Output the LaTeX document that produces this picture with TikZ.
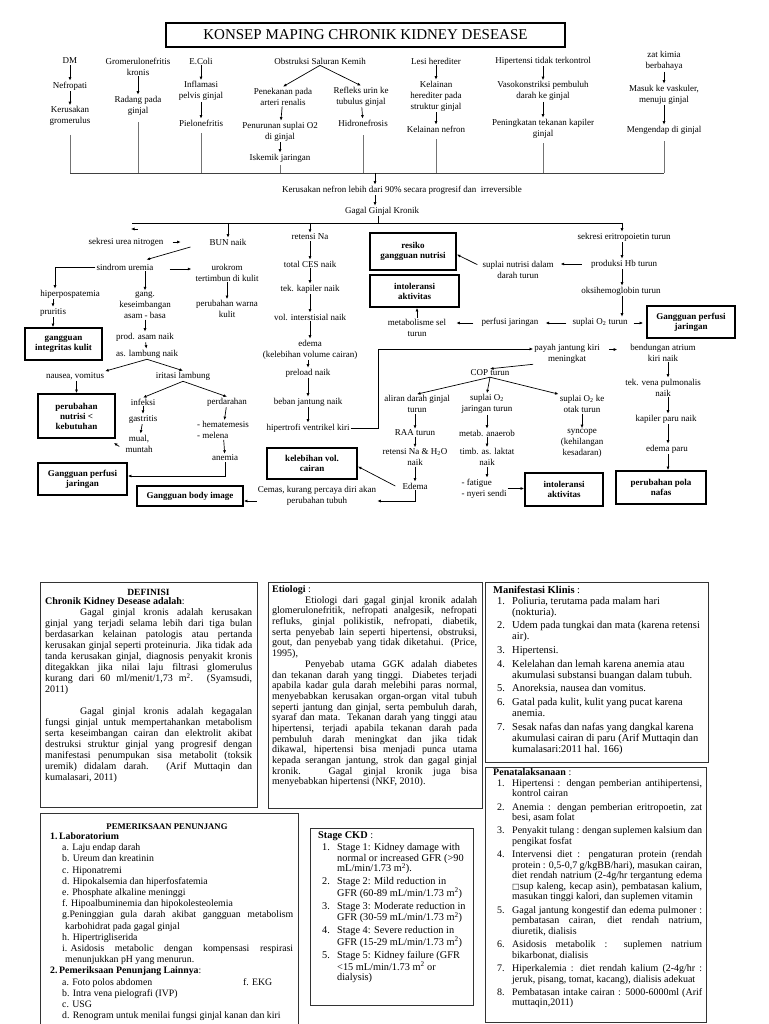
\documentclass[tikz,border=0pt]{standalone}
\usepackage{fontspec}
\setmainfont{Liberation Serif}
\newfontfamily\dvs{DejaVu Sans}
\usetikzlibrary{arrows.meta,calc}
\newcommand\fs{\fontsize{9}{11}\selectfont}
\newcommand\fsb{\fontsize{9}{10}\selectfont\bfseries}
\newcommand\J[2]{\makebox[#1pt][s]{#2}}
\newcommand\N[1]{\hspace*{4pt}\makebox[15pt][l]{#1}}
\newcommand\C{\hspace*{19pt}}
\begin{document}
\begin{tikzpicture}[x=1pt,y=-1pt,
  t/.style={font=\fs, align=center, inner sep=1pt},
  bx/.style={draw, line width=1.8pt, font=\fsb, align=center, inner sep=1pt},
  ar/.style={-{Latex[length=3.5pt,width=3pt]}, line width=0.7pt},
  ln/.style={line width=0.7pt},
  gl/.style={line width=0.8pt, draw=black!55},
  bb/.style={draw=black!80, line width=0.8pt, inner sep=0, anchor=north west},
  bt/.style={font=\fontsize{10}{11}\selectfont, inner sep=0, anchor=north west, align=left}]
\fill[white] (0,0) rectangle (768,1024);
\useasboundingbox (0,0) rectangle (768,1024);

% ---------- title
\node[draw, line width=1.8pt, minimum width=399, minimum height=24, inner sep=0,
      font=\fontsize{15}{17}\selectfont] (title) at (365.5,35) {KONSEP MAPING CHRONIK KIDNEY DESEASE};

% ---------- causes
\node[t] (dm) at (70,61) {DM};
\node[t] (nef) at (70,86) {Nefropati};
\node[t] (kg) at (70,116) {Kerusakan\\gromerulus};
\node[t] (gn) at (138,66.5) {Gromerulonefritis\\kronis};
\node[t] (rad) at (138,105.5) {Radang pada\\ginjal};
\node[t] (ec) at (201,61) {E.Coli};
\node[t] (inf) at (201,91) {Inflamasi\\pelvis ginjal};
\node[t] (pie) at (201,123) {Pielonefritis};
\node[t] (obs) at (320,61) {Obstruksi Saluran Kemih};
\node[t] (pen) at (283,96.5) {Penekanan pada\\arteri renalis};
\node[t] (ref) at (361,96.5) {Refleks urin ke\\tubulus ginjal};
\node[t] (psu) at (280,131.5) {Penurunan suplai O2\\di ginjal};
\node[t] (isk) at (280,158) {Iskemik jaringan};
\node[t] (hid) at (363,123) {Hidronefrosis};
\node[t] (lesi) at (436,61) {Lesi herediter};
\node[t] (kel) at (436,96) {Kelainan\\herediter pada\\struktur ginjal};
\node[t] (kn) at (436,129) {Kelainan nefron};
\node[t] (hip) at (543,61) {Hipertensi tidak terkontrol};
\node[t] (vas) at (543,91) {Vasokonstriksi pembuluh\\darah ke ginjal};
\node[t] (ptk) at (543,128.5) {Peningkatan tekanan kapiler\\ginjal};
\node[t] (zat) at (664,61) {zat kimia\\berbahaya};
\node[t] (mas) at (664,94.5) {Masuk ke vaskuler,\\menuju ginjal};
\node[t] (men) at (664,130) {Mengendap di ginjal};

\draw[ar] (dm) -- (nef);
\draw[ar] (nef) -- (kg);
\draw[ar] (gn) -- (rad);
\draw[ar] (ec) -- (inf);
\draw[ar] (inf) -- (pie);
\draw[ar] (obs.south) -- (pen.north);
\draw[ar] (obs.south) -- (ref.north);
\draw[ar] (pen) -- (psu);
\draw[ar] (psu) -- (isk);
\draw[ar] (ref) -- (hid);
\draw[ar] (lesi) -- (kel);
\draw[ar] (kel) -- (kn);
\draw[ar] (hip) -- (vas);
\draw[ar] (vas) -- (ptk);
\draw[ar] (zat) -- (mas);
\draw[ar] (mas) -- (men);

\coordinate (hl) at (0,173);
\foreach \n/\g in {kg/8, rad/6, pie/6, isk/2, hid/8, kn/6, ptk/4, men/6}
  \draw[gl] (\n.south) ++(0,\g) -- (\n.south |- hl);
\draw[ln, draw=black!75] (kg.south |- hl) -- (men.south |- hl);

\node[t, anchor=west] (k90) at (281,190) {Kerusakan nefron lebih dari 90\% secara progresif dan\ \ irreversible};
\node[t] (ggk) at (382,211) {Gagal Ginjal Kronik};
\coordinate (hm) at (375,173);
\draw[ar] (hm) -- (hm |- k90.north);
\draw[ar] (k90.south -| hm) -- (ggk.north -| hm);
\coordinate (g2) at (378,223);
\coordinate (hL) at (132,223);
\coordinate (hR) at (622,223);
\draw[ln] (ggk.south -| g2) -- (g2);
\draw[ln] (hL) -- (hR);

% ---------- left branch
\node[t] (sun) at (126,242) {sekresi urea nitrogen};
\node[t] (bun) at (228,242) {BUN naik};
\node[t] (su) at (125,267) {sindrom uremia};
\node[t] (hpp) at (70,294) {hiperpospatemia};
\node[t] (pru) at (53,312) {pruritis};
\node[bx, minimum width=77, minimum height=32] (gik) at (63.5,344) {gangguan\\integritas kulit};
\node[t] (uro) at (227,272.5) {urokrom\\tertimbun di kulit};
\node[t] (pwk) at (227,309) {perubahan warna\\kulit};
\node[t] (gkab) at (145,305) {gang.\\keseimbangan\\asam - basa};
\node[t] (pan) at (145,337) {prod. asam naik};
\node[t] (aln) at (147,354) {as. lambung naik};
\node[t] (nv) at (75,376) {nausea, vomitus};
\node[t] (il) at (183,376) {iritasi lambung};
\node[bx, minimum width=77, minimum height=44] (pnk) at (76.5,416) {perubahan\\nutrisi <\\kebutuhan};
\node[t] (infk) at (143,402) {infeksi};
\node[t] (gas) at (143,419) {gastritis};
\node[t] (mm) at (139,443.5) {mual,\\muntah};
\node[t] (perd) at (227,402) {perdarahan};
\node[t, align=left] (hem) at (223,430) {- hematemesis\\- melena};
\node[t] (anem) at (225,458) {anemia};
\node[bx, minimum width=89, minimum height=32] (gpj1) at (82.5,479) {Gangguan perfusi\\jaringan};
\node[bx, minimum width=106, minimum height=20] (gbi) at (190,496) {Gangguan body image};
\node[t] (cem) at (317,496) {Cemas, kurang percaya diri akan\\perubahan tubuh};
\node[bx, minimum width=90, minimum height=31] (kvc) at (312,463.5) {kelebihan vol.\\cairan};

\draw[ar] ($(hL)+(6,6)$) -- ($(hL)+(-1,6)$);
\draw[ar] (bun.north |- hL) -- (bun.north);
\draw[ar] ($(sun.east)+(8,0)$) -- ($(sun.east)+(16,0)$);
\draw[ar] ($(bun.west)+(-18,5)$) -- ($(su.north east)+(-8,-3)$);
\draw[ar] (su.west) -| ($(hpp.north)+(-15,0)$);
\draw[ar] (hpp.south -| pru) -- (pru.north);
\draw[ar] (pru) -- (pru |- gik.north);
\draw[ar] ($(su.east)+(15,2)$) -- ($(su.east -| uro.west)+(-3,2)$);
\draw[ar] (uro) -- (pwk);
\draw[ar] (su.south -| gkab) -- (gkab.north);
\draw[ar] (gkab) -- (pan);
\draw[ar] (pan) -- (aln);
\draw[ar] (aln.south) -- (nv.north east);
\draw[ar] (aln.south) -- (il.north);
\draw[ar] (nv.south -| pnk) -- (pnk.north);
\draw[ar] (il.south) -- (infk.north);
\draw[ar] (il.south) -- (perd.north);
\draw[ar] (infk) -- (gas);
\draw[ar] (gas) -- (mm);
\draw[ar] ($(mm.west)+(-5,3)$) -- ($(pnk.south east)+(-2,4)$);
\draw[ar] (perd) -- (hem);
\draw[ar] (hem) -- (anem);
\draw[ar] (anem.south) |- ($(gpj1.east)+(0,-3)$);
\draw[ar] ($(cem.west)+(0,5)$) -- ($(cem.west -| gbi.east)+(0,5)$);

% ---------- middle branch
\node[t] (rna) at (310,237) {retensi Na};
\node[t] (ces) at (310,264) {total CES naik};
\node[t] (tkn) at (310,289) {tek. kapiler naik};
\node[t] (vin) at (310,317) {vol. interstisial naik};
\node[t] (ed) at (310,349.5) {edema\\(kelebihan volume cairan)};
\node[t] (pln) at (308,373) {preload naik};
\node[t] (bjn) at (308,402) {beban jantung naik};
\node[t] (hvk) at (308,428) {hipertrofi ventrikel kiri};
\draw[ar] (rna.north |- hL) -- (rna.north);
\draw[ar] (rna) -- (ces);
\draw[ar] (ces) -- (tkn);
\draw[ar] (tkn) -- (vin);
\draw[ar] (vin) -- (ed);
\draw[ar] (ed.south -| pln) -- (pln.north);
\draw[ar] (pln) -- (bjn);
\draw[ar] (bjn) -- (hvk);

\node[bx, minimum width=86, minimum height=37] (rgn) at (413,251.5) {resiko\\gangguan nutrisi};
\node[bx, minimum width=89, minimum height=32] (ia1) at (414.5,291) {intoleransi\\aktivitas};

% ---------- right branch
\coordinate (rx) at (622,0);
\node[t] (ser) at (624,237) {sekresi eritropoietin turun};
\node[t] (phb) at (624,264) {produksi Hb turun};
\node[t] (snd) at (518,269.5) {suplai nutrisi dalam\\darah turun};
\node[t] (oks) at (621,291) {oksihemoglobin turun};
\node[t] (so2) at (600,322) {suplai O\textsubscript{2} turun};
\node[bx, minimum width=88, minimum height=32] (gpj2) at (691,322) {Gangguan perfusi\\jaringan};
\node[t] (pfj) at (510,322) {perfusi jaringan};
\node[t] (msl) at (417,327.5) {metabolisme sel\\turun};
\draw[ar] (hR) -- (hR |- ser.north);
\draw[ar] (ser.south -| rx) -- (phb.north -| rx);
\draw[ar] ($(phb.west)+(-8,0)$) -- ($(phb.west -| snd.east)+(6,0)$);
\draw[ar] ($(snd.north west)+(-4,5)$) -- ($(rgn.east)+(0,3)$);
\draw[ar] (phb.south -| rx) -- (oks.north -| rx);
\draw[ar] (oks.south -| rx) -- (so2.north -| rx);
\draw[ar] ($(so2.east)+(5,1)$) -- ($(so2.east -| gpj2.west)+(-3,1)$);
\draw[ar] ($(so2.west)+(-5,1)$) -- ($(so2.west -| pfj.east)+(6,1)$);
\draw[ar] ($(pfj.west)+(-7,1)$) -- ($(pfj.west -| msl.east)+(9,1)$);
\draw[ar] (msl.north) -- (msl.north |- ia1.south);

\node[t] (pjk) at (567,353.5) {payah jantung kiri\\meningkat};
\node[t] (bai) at (663,352.5) {bendungan atrium\\kiri naik};
\node[t] (tvp) at (663,387.5) {tek. vena pulmonalis\\naik};
\node[t] (kpn) at (666,419) {kapiler paru naik};
\node[t] (edp) at (667,449) {edema paru};
\node[bx, minimum width=90, minimum height=33] (ppn) at (661,487.5) {perubahan pola\\nafas};
\coordinate (cr) at (378,349);
\coordinate (rx2) at (668,0);
\draw[ar] (hvk.east) -| (cr) -- (cr -| pjk.west);
\draw[ar] ($(pjk.east)+(8,-4)$) -- ($(pjk.east -| bai.west)+(-12,-4)$);
\draw[ar] (bai.south -| rx2) -- (tvp.north -| rx2);
\draw[ar] (tvp.south -| rx2) -- (kpn.north -| rx2);
\draw[ar] (kpn.south -| rx2) -- (edp.north -| rx2);
\draw[ar] (edp.south -| rx2) -- (ppn.north -| rx2);

\node[t] (cop) at (490,373) {COP turun};
\node[t] (adg) at (417,404) {aliran darah ginjal\\turun};
\node[t] (soj) at (487,404) {suplai O\textsubscript{2}\\jaringan turun};
\node[t] (sok) at (582,404) {suplai O\textsubscript{2} ke\\otak turun};
\node[t] (raa) at (415,433) {RAA turun};
\node[t] (rnh) at (415,457) {retensi Na \& H\textsubscript{2}O\\naik};
\node[t] (edm) at (415,486) {Edema};
\node[t] (man) at (487,433) {metab. anaerob};
\node[t] (tal) at (487,457) {timb. as. laktat\\naik};
\node[t, align=left] (fat) at (484,488.5) {- fatigue\\- nyeri sendi};
\node[bx, minimum width=78, minimum height=33] (ia2) at (564,489.5) {intoleransi\\aktivitas};
\node[t] (syn) at (582,443.5) {syncope\\(kehilangan\\kesadaran)};
\draw[ar] (pjk.south west) -- (cop.north);
\draw[ar] (cop.south) -- (adg.north);
\draw[ar] (cop.south) -- (soj.north);
\draw[ar] (cop.south) -- (sok.north west);
\draw[ar] (adg.south -| raa) -- (raa.north);
\draw[ar] (raa) -- (rnh);
\draw[ar] (rnh) -- (edm);
\draw[ar] (soj) -- (man);
\draw[ar] (man) -- (tal);
\draw[ar] (tal.south) -- (tal.south |- fat.north);
\draw[ar] (fat.east) -- (fat.east -| ia2.west);
\draw[ar] (sok) -- (syn);
\draw[ar] ($(edm.west)+(-6,0)$) -- ($(kvc.east)+(0,3)$);
\draw[ar] (edm.south) |- ($(cem.east)+(0,5)$);

% ---------- bottom boxes
\node[bb, minimum width=217, minimum height=225] (defbox) at (40,582) {};
\node[bb, minimum width=214, minimum height=226] (etibox) at (268,582) {};
\node[bb, minimum width=223, minimum height=180] (manbox) at (485,582) {};
\node[bb, minimum width=221, minimum height=255] (patbox) at (485,767) {};
\node[bb, minimum width=258, minimum height=220] (pmbox) at (40,813) {};
\node[bb, minimum width=163, minimum height=177] (ckdbox) at (310,828) {};

\node[font=\fontsize{9.5}{11}\selectfont\bfseries, inner sep=0] (defh) at (148.5,592) {DEFINISI};
\node[bt] (deft) at (45,597.5) {\textbf{Chronik Kidney Desease adalah}:\\
\hspace*{35pt}\J{172}{Gagal ginjal kronis adalah kerusakan}\\
\J{207}{ginjal yang terjadi selama lebih dari tiga bulan}\\
\J{207}{berdasarkan kelainan patologis atau pertanda}\\
\J{207}{kerusakan ginjal seperti proteinuria. Jika tidak ada}\\
\J{207}{tanda kerusakan ginjal, diagnosis penyakit kronis}\\
\J{207}{ditegakkan jika nilai laju filtrasi glomerulus}\\
\J{207}{kurang dari 60 ml/menit/1,73 m\textsuperscript{2}. (Syamsudi,}\\
2011)\\[11pt]
\hspace*{35pt}\J{172}{Gagal ginjal kronis adalah kegagalan}\\
\J{207}{fungsi ginjal untuk mempertahankan metabolism}\\
\J{207}{serta keseimbangan cairan dan elektrolit akibat}\\
\J{207}{destruksi struktur ginjal yang progresif dengan}\\
\J{207}{manifestasi penumpukan sisa metabolit (toksik}\\
\J{207}{uremik) didalam darah. (Arif Muttaqin dan}\\
kumalasari, 2011)};

\node[bt, font=\fontsize{10}{10.67}\selectfont] (etit) at (272,585.5) {\textbf{Etiologi} :\\
\hspace*{33pt}\J{172}{Etiologi dari gagal ginjal kronik adalah}\\
\J{205}{glomerulonefritik, nefropati analgesik, nefropati}\\
\J{205}{refluks, ginjal polikistik, nefropati, diabetik,}\\
\J{205}{serta penyebab lain seperti hipertensi, obstruksi,}\\
\J{205}{gout, dan penyebab yang tidak diketahui. (Price,}\\
1995),\\
\hspace*{33pt}\J{172}{Penyebab utama GGK adalah diabetes}\\
\J{205}{dan tekanan darah yang tinggi. Diabetes terjadi}\\
\J{205}{apabila kadar gula darah melebihi paras normal,}\\
\J{205}{menyebabkan kerusakan organ-organ vital tubuh}\\
\J{205}{seperti jantung dan ginjal, serta pembuluh darah,}\\
\J{205}{syaraf dan mata. Tekanan darah yang tinggi atau}\\
\J{205}{hipertensi, terjadi apabila tekanan darah pada}\\
\J{205}{pembuluh darah meningkat dan jika tidak}\\
\J{205}{dikawal, hipertensi bisa menjadi punca utama}\\
\J{205}{kepada serangan jantung, strok dan gagal ginjal}\\
\J{205}{kronik. Gagal ginjal kronik juga bisa}\\
menyebabkan hipertensi (NKF, 2010).};

\node[bt, font=\fontsize{10.5}{11}\selectfont] (mant) at (493,585.5) {\textbf{Manifestasi Klinis} :\\
\N{1.}Poliuria, terutama pada malam hari\\
\C(nokturia).\\[2.7pt]
\N{2.}Udem pada tungkai dan mata (karena retensi\\
\C air).\\[2.7pt]
\N{3.}Hipertensi.\\[2.7pt]
\N{4.}Kelelahan dan lemah karena anemia atau\\
\C akumulasi substansi buangan dalam tubuh.\\[2.7pt]
\N{5.}Anoreksia, nausea dan vomitus.\\[2.7pt]
\N{6.}Gatal pada kulit, kulit yang pucat karena\\
\C anemia.\\[2.7pt]
\N{7.}Sesak nafas dan nafas yang dangkal karena\\
\C akumulasi cairan di paru (Arif Muttaqin dan\\
\C kumalasari:2011 hal. 166)};

\node[bt, font=\fontsize{10}{10.5}\selectfont] (patt) at (493,768.5) {\textbf{Penatalaksanaan} :\\
\N{1.}\J{190}{Hipertensi : dengan pemberian antihipertensi,}\\
\C kontrol cairan\\[2.9pt]
\N{2.}\J{190}{Anemia : dengan pemberian eritropoetin, zat}\\
\C besi, asam folat\\[2.9pt]
\N{3.}\J{190}{Penyakit tulang : dengan suplemen kalsium dan}\\
\C pengikat fosfat\\[2.9pt]
\N{4.}\J{190}{Intervensi diet : pengaturan protein (rendah}\\
\C\J{190}{protein : 0,5-0,7 g/kgBB/hari), masukan cairan,}\\
\C\J{190}{diet rendah natrium (2-4g/hr tergantung edema}\\
\C\J{190}{{\dvs\footnotesize □}sup kaleng, kecap asin), pembatasan kalium,}\\
\C masukan tinggi kalori, dan suplemen vitamin\\[2.9pt]
\N{5.}\J{190}{Gagal jantung kongestif dan edema pulmoner :}\\
\C\J{190}{pembatasan cairan, diet rendah natrium,}\\
\C diuretik, dialisis\\[2.9pt]
\N{6.}\J{190}{Asidosis metabolik : suplemen natrium}\\
\C bikarbonat, dialisis\\[2.9pt]
\N{7.}\J{190}{Hiperkalemia : diet rendah kalium (2-4g/hr :}\\
\C jeruk, pisang, tomat, kacang), dialisis adekuat\\[2.9pt]
\N{8.}\J{190}{Pembatasan intake cairan : 5000-6000ml (Arif}\\
\C muttaqin,2011)};

\node[font=\fontsize{8.7}{10}\selectfont\bfseries, inner sep=0] (pmh) at (167,827) {PEMERIKSAAN PENUNJANG};
\node[bt, font=\fontsize{9.8}{11.2}\selectfont] (pmt) at (50,832.5) {\textbf{1.\,Laboratorium}\\
\hspace*{12pt}a. Laju endap darah\\
\hspace*{12pt}b. Ureum dan kreatinin\\
\hspace*{12pt}c. Hiponatremi\\
\hspace*{12pt}d. Hipokalsemia dan hiperfosfatemia\\
\hspace*{12pt}e. Phosphate alkaline meninggi\\
\hspace*{12pt}f. Hipoalbuminemia dan hipokolesteolemia\\
\hspace*{12pt}\J{231}{g.Peninggian gula darah akibat gangguan metabolism}\\
\hspace*{15pt}karbohidrat pada gagal ginjal\\
\hspace*{12pt}h. Hipertrigliserida\\
\hspace*{12pt}\J{231}{\mbox{i. Asidosis} metabolic dengan kompensasi respirasi}\\
\hspace*{15pt}menunjukkan pH yang menurun.\\
\textbf{2.\,Pemeriksaan Penunjang Lainnya}:\\
\hspace*{12pt}\makebox[181pt][l]{a. Foto polos abdomen}f. EKG\\
\hspace*{12pt}b. Intra vena pielografi (IVP)\\
\hspace*{12pt}c. USG\\
\hspace*{12pt}d. Renogram untuk menilai fungsi ginjal kanan dan kiri};

\node[bt, font=\fontsize{10.3}{10.6}\selectfont] (ckdt) at (318,831.5) {\textbf{Stage CKD} :\\[1.4pt]
\N{1.}Stage 1: Kidney damage with\\
\C normal or increased GFR (>90\\
\C mL/min/1.73 m\textsuperscript{2}).\\[2.4pt]
\N{2.}Stage 2: Mild reduction in\\
\C GFR (60-89 mL/min/1.73 m\textsuperscript{2})\\[2.4pt]
\N{3.}Stage 3: Moderate reduction in\\
\C GFR (30-59 mL/min/1.73 m\textsuperscript{2})\\[2.4pt]
\N{4.}Stage 4: Severe reduction in\\
\C GFR (15-29 mL/min/1.73 m\textsuperscript{2})\\[2.4pt]
\N{5.}Stage 5: Kidney failure (GFR\\
\C <15 mL/min/1.73 m\textsuperscript{2} or\\
\C dialysis)};
\end{tikzpicture}
\end{document}
